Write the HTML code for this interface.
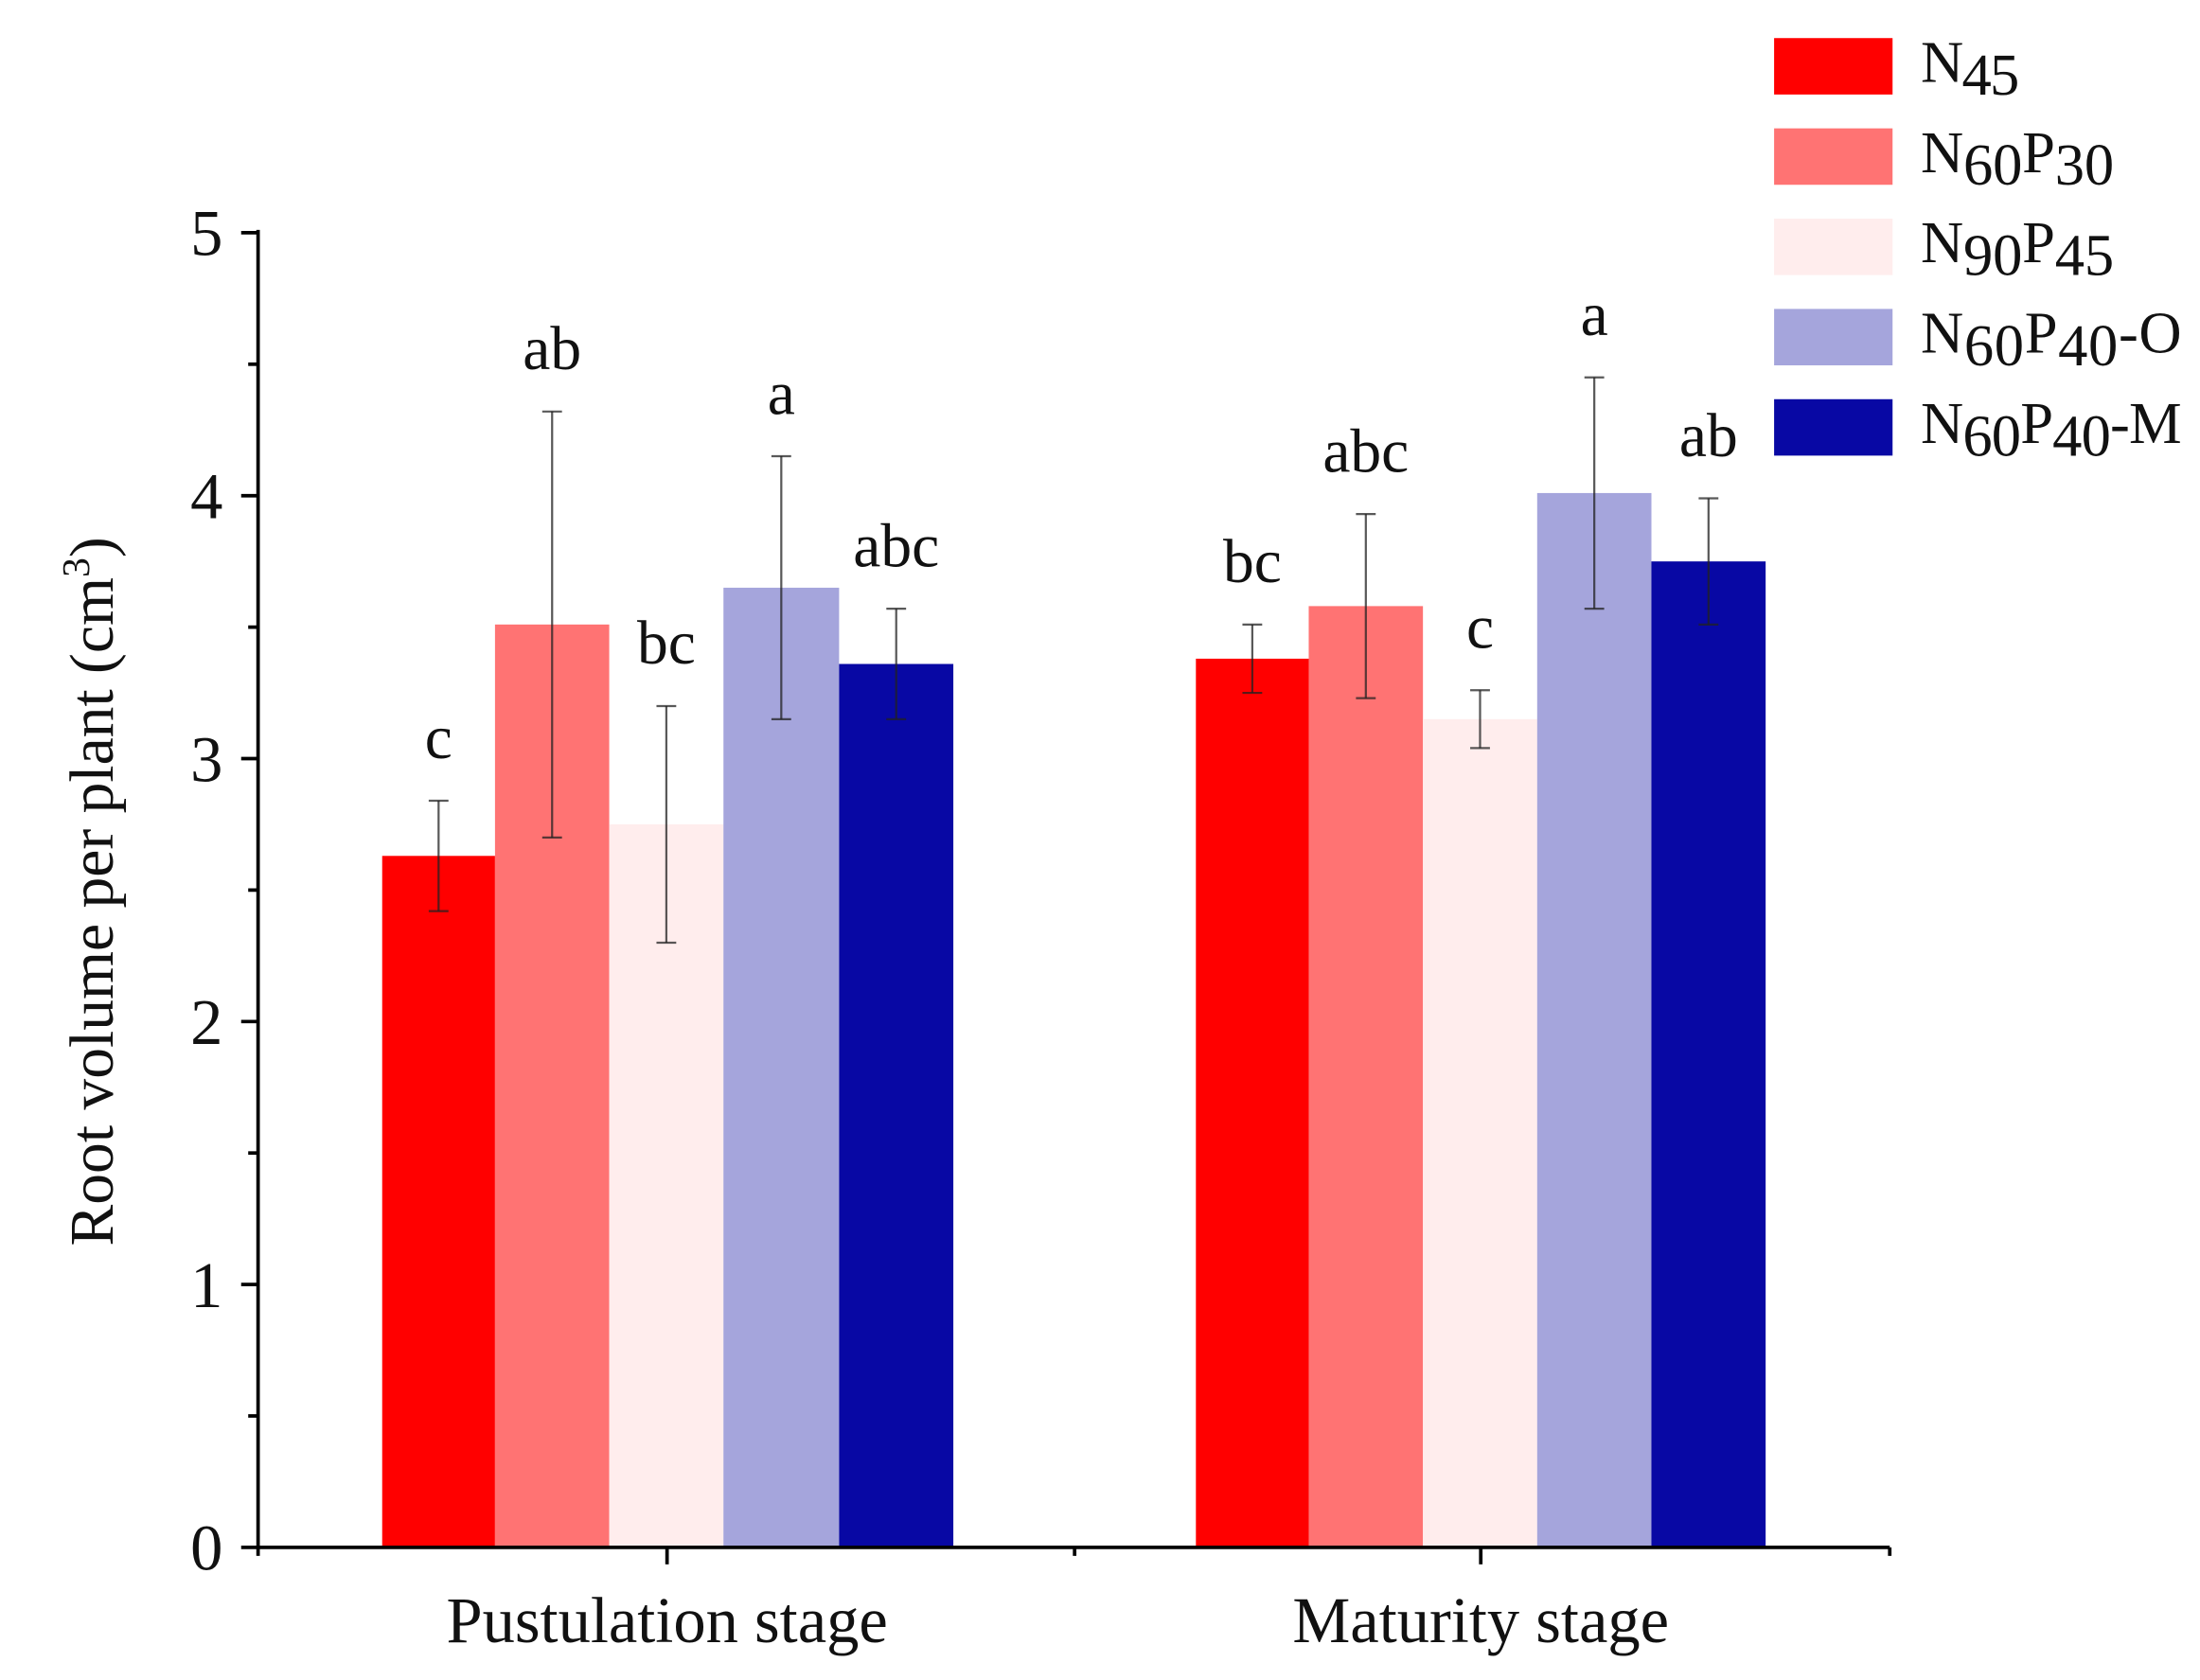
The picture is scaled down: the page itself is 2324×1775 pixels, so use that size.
<!DOCTYPE html>
<html><head><meta charset="utf-8"><style>
html,body{margin:0;padding:0;background:#fff}
svg{display:block}
text{font-family:"Liberation Serif",serif;fill:#111}
</style></head><body>
<svg id="s" width="2324" height="1775" viewBox="0 0 1560 1191" preserveAspectRatio="none" xmlns="http://www.w3.org/2000/svg"></svg>
<script>
const s=document.getElementById('s');
const Y0=1097,U=186.4;const y=v=>Y0-v*U;
let h='';
const cols=['#ff0000','#ff7373','#ffeded','#a5a5dc','#0808a4'];
const P={x:[271,351,432,513,595,676],v:[2.63,3.51,2.75,3.65,3.36],e:[[2.42,2.84],[2.70,4.32],[2.30,3.20],[3.15,4.15],[3.15,3.57]],l:['c','ab','bc','a','abc']};
const M={x:[848,928,1009,1090,1171,1252],v:[3.38,3.58,3.15,4.01,3.75],e:[[3.25,3.51],[3.23,3.93],[3.04,3.26],[3.57,4.45],[3.51,3.99]],l:['bc','abc','c','a','ab']};
for(const g of [P,M]){
 for(let i=0;i<5;i++){
  const x0=g.x[i],x1=g.x[i+1],c=(x0+x1)/2;
  h+=`<rect x="${x0}" y="${y(g.v[i])}" width="${x1-x0}" height="${g.v[i]*U}" fill="${cols[i]}"/>`;
  const [a,b]=g.e[i];
  h+=`<g stroke="#222" stroke-opacity="0.75" stroke-width="1.5"><line x1="${c}" x2="${c}" y1="${y(a)}" y2="${y(b)}"/><line x1="${c-7}" x2="${c+7}" y1="${y(a)}" y2="${y(a)}"/><line x1="${c-7}" x2="${c+7}" y1="${y(b)}" y2="${y(b)}"/></g>`;
  h+=`<text x="${c}" y="${y(b)-30}" font-size="44" text-anchor="middle">${g.l[i]}</text>`;
 }
}
h+=`<g stroke="#000" stroke-width="2.5"><line x1="183" y1="163" x2="183" y2="1097"/><line x1="183" y1="1097" x2="1340" y2="1097"/>`;
for(let v=0;v<=5;v+=0.5){const L=v%1===0?12:7;h+=`<line x1="${183-L}" x2="183" y1="${y(v)}" y2="${y(v)}"/>`;}
for(const x of [183,473,762,1050,1340]){const L=(x==473||x==1050)?12:6;h+=`<line x1="${x}" x2="${x}" y1="1097" y2="${1097+L}"/>`;}
h+=`</g>`;
for(let v=0;v<=5;v++)h+=`<text x="158" y="${y(v)+16}" font-size="46" text-anchor="end">${v}</text>`;
h+=`<text x="473" y="1164" font-size="46" text-anchor="middle">Pustulation stage</text>`;
h+=`<text x="1050" y="1164" font-size="46" text-anchor="middle">Maturity stage</text>`;
h+=`<text transform="translate(80,632) rotate(-90)" font-size="44" text-anchor="middle">Root volume per plant (cm<tspan dy="-17" font-size="28">3</tspan><tspan dy="17">)</tspan></text>`;
const leg=[['N','45'],['N','60','P','30'],['N','90','P','45'],['N','60','P','40','-O'],['N','60','P','40','-M']];
for(let i=0;i<5;i++){
 const ty=27+i*64;
 h+=`<rect x="1258" y="${ty}" width="84" height="40" fill="${cols[i]}"/>`;
 const p=leg[i];let t=`<text x="1362" y="${ty+31}" font-size="42" textLength="${p[4]?185:(p[2]?137:70)}">`;
 t+=`${p[0]}<tspan dy="9">${p[1]}</tspan>`;
 if(p[2])t+=`<tspan dy="-9">${p[2]}</tspan><tspan dy="9">${p[3]}</tspan>`;
 if(p[4])t+=`<tspan dy="-9">${p[4]}</tspan>`;
 t+=`</text>`;h+=t;
}
s.innerHTML=h;
</script>
</body></html>
